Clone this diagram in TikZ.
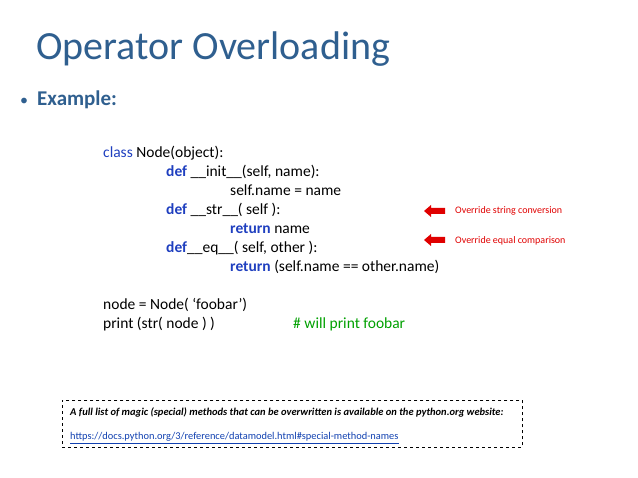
\documentclass[tikz,border=0pt]{standalone}
\usepackage{fontspec}
\setmainfont{Carlito}
\usetikzlibrary{arrows.meta}
\definecolor{ttl}{HTML}{2F5F8F}
\definecolor{kw}{HTML}{1F3FBF}
\definecolor{cm}{HTML}{00A000}
\definecolor{rd}{HTML}{E00000}
\definecolor{lnk}{HTML}{1040B0}
\tikzset{t/.style={anchor=base west,inner sep=0pt,font=\fontsize{15.5}{18}\selectfont},
 note/.style={anchor=base west,inner sep=0pt,text=rd,font=\fontsize{10}{11}\selectfont},
 redarrow/.style={draw=none,fill=rd}}
\newcommand{\kw}[1]{\textcolor{kw}{\textbf{#1}}}
\begin{document}
\begin{tikzpicture}[x=1pt,y=-1pt]
\useasboundingbox (0,0) rectangle (638,478);
\node[anchor=base west,inner sep=0pt,text=ttl,font=\fontsize{40}{44}\selectfont] (title) at (36,60) {Operator Overloading};
\node[anchor=base west,inner sep=0pt,text=ttl,font=\fontsize{16}{18}\selectfont] (bul) at (20,106) {•};
\node[anchor=base west,inner sep=0pt,text=ttl,font=\fontsize{21}{24}\selectfont\bfseries] (ex) at (37,106) {Example:};
\node[t] (l1) at (103,158) {\textcolor{kw}{class} Node(object):};
\node[t] (l2) at (166,177) {\kw{def} \_\_init\_\_(self, name):};
\node[t] (l3) at (230,196) {self.name = name};
\node[t] (l4) at (166,215) {\kw{def} \_\_str\_\_( self ):};
\node[t] (l5) at (230,234) {\kw{return} name};
\node[t] (l6) at (166,253) {\kw{def}\_\_eq\_\_( self, other ):};
\node[t] (l7) at (230,272) {\kw{return} (self.name == other.name)};
\node[t] (l8) at (103,310) {node = Node( ‘foobar’)};
\node[t] (l9) at (103,329) {print (str( node ) )};
\node[t,text=cm] (c9) at (293,329) {\# will print foobar};
\node[note] (n1) at (455,214) {Override string conversion};
\node[note] (n2) at (455,244) {Override equal comparison};
\foreach \y/\n in {211/a1,240/a2}{
 \path[redarrow] (424,\y) -- (431,\y-6) -- (431,\y-3) -- (445,\y-3) -- (445,\y+3) -- (431,\y+3) -- (431,\y+6) -- cycle;
}
\node[draw,dashed,line width=0.7pt,minimum width=460pt,minimum height=47pt,anchor=north west,inner sep=0pt] (box) at (62,400) {};
\node[anchor=base west,inner sep=0pt,font=\fontsize{10.5}{12}\selectfont\bfseries\itshape] (b1) at (70,416) {A full list of magic (special) methods that can be overwritten is available on the python.org website:};
\node[anchor=base west,inner sep=0pt,text=lnk,font=\fontsize{10.4}{12}\selectfont] (b2) at (70,440) {\underline{https://docs.python.org/3/reference/datamodel.html\#special-method-names}};
\end{tikzpicture}
\end{document}
